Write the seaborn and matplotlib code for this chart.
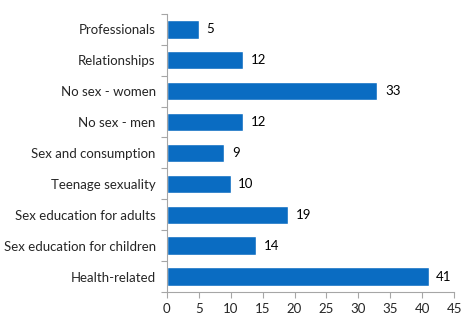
import matplotlib
matplotlib.use("Agg")
import matplotlib.pyplot as plt
import seaborn as sns
import numpy as np
import pandas as pd

categories = ["Professionals", "Relationships", "No sex - women", "No sex - men",
              "Sex and consumption", "Teenage sexuality", "Sex education for adults",
              "Sex education for children", "Health-related"]
values = [5, 12, 33, 12, 9, 10, 19, 14, 41]
x_ticks = [0, 5, 10, 15, 20, 25, 30, 35, 40, 45]

sns.set_style("white")
plt.rcParams['font.family'] = ['Lato', 'DejaVu Sans']

df = pd.DataFrame({"cat": categories, "val": values})

fig = plt.figure(figsize=(4.74, 3.22), dpi=100)
ax = fig.add_axes([0.352, 0.093, 0.606, 0.864])
sns.barplot(data=df, x="val", y="cat", orient="h", color="#0A6CC2",
            saturation=1, width=0.6, ax=ax)

for i, v in enumerate(values):
    ax.text(v + 1.2, i, str(v), va="center", ha="left", fontsize=9.5, color="#000000")

ax.set_xlim(0, 45)
ax.set_ylim(8.5, -0.5)
ax.set_xticks(x_ticks)
ax.set_xticklabels([str(t) for t in x_ticks], fontsize=9.5)
ax.set_yticks(range(len(categories)))
ax.set_yticklabels(categories, fontsize=9.5)
ax.set_yticks(np.arange(-0.5, len(categories), 1), minor=True)
ax.tick_params(axis="y", which="major", length=0, pad=8)
ax.tick_params(axis="y", which="minor", length=4, color="#A6A6A6", width=0.8, direction="out", left=True)
ax.tick_params(axis="x", which="major", length=4, color="#A6A6A6", width=0.8, direction="out", bottom=True, pad=4)
ax.set_xlabel("")
ax.set_ylabel("")
for s in ["top", "right"]:
    ax.spines[s].set_visible(False)
for s in ["left", "bottom"]:
    ax.spines[s].set_color("#A6A6A6")
    ax.spines[s].set_linewidth(0.8)

fig.savefig("out.png", dpi=100)
